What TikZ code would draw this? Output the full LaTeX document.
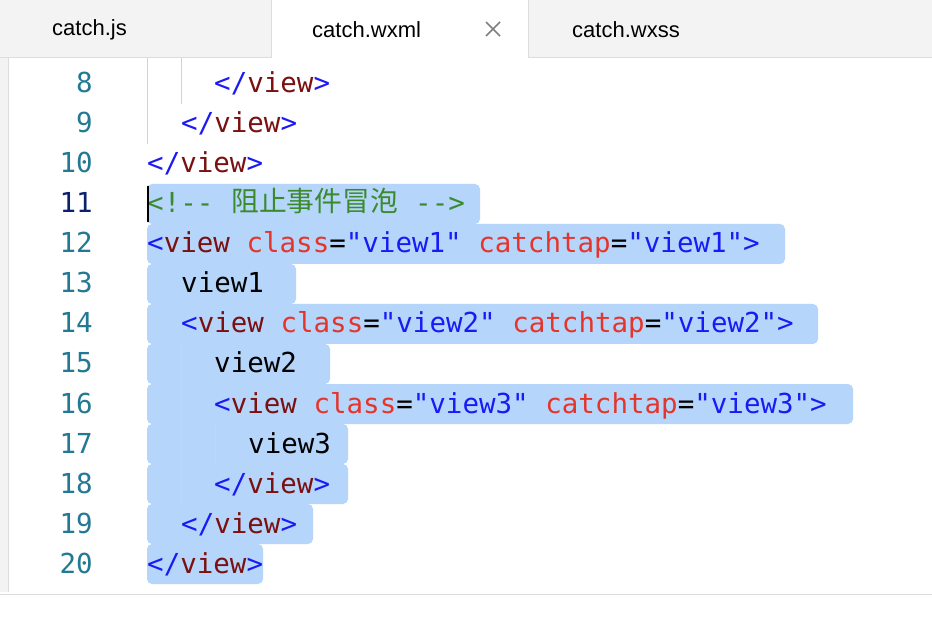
\documentclass[tikz,border=0pt]{standalone}
\usepackage{fontspec}
\setmainfont{Liberation Sans}
\setmonofont{DejaVu Sans Mono}
\newfontfamily\cjk{Noto Sans CJK SC}
\definecolor{tabbg}{HTML}{F3F3F3}
\definecolor{tabline}{HTML}{DDDDDD}
\definecolor{sel}{HTML}{B5D5FB}
\definecolor{lnum}{HTML}{237893}
\definecolor{lnact}{HTML}{0B216F}
\definecolor{cbr}{HTML}{1A1AF5}
\definecolor{cname}{HTML}{7A1010}
\definecolor{cattr}{HTML}{E5352B}
\definecolor{cval}{HTML}{1A1AF5}
\definecolor{ccom}{HTML}{3C8A2E}
\definecolor{guide}{HTML}{D3D3D3}
\newcommand{\Tg}[1]{\textcolor{cbr}{#1}}
\newcommand{\Nm}[1]{\textcolor{cname}{#1}}
\newcommand{\At}[1]{\textcolor{cattr}{#1}}
\newcommand{\Vl}[1]{\textcolor{cval}{#1}}
\begin{document}
\begin{tikzpicture}[x=1pt,y=-1pt,
  code/.style={anchor=base west,inner sep=0,font=\ttfamily\fontsize{27.5}{30}\selectfont},
  num/.style={anchor=base east,inner sep=0,font=\ttfamily\fontsize{27.5}{30}\selectfont,text=lnum},
  tab/.style={anchor=west,inner sep=0,font=\fontsize{22}{26}\selectfont}]
\useasboundingbox (0,0) rectangle (932,620);
\fill[white] (0,0) rectangle (932,620);
% tab bar
\fill[tabbg] (0,0) rectangle (932,57);
\fill[white] (272,0) rectangle (528,58);
\draw[tabline] (0,57.5) -- (272,57.5) (528,57.5) -- (932,57.5);
\draw[tabline] (271.5,0) -- (271.5,57.5) (528.5,0) -- (528.5,57.5);
\node[tab] (t1) at (52,30) {catch.js};
\node[tab] (t2) at (312,30) {catch.wxml};
\node[tab] (t3) at (572,30) {catch.wxss};
\draw[gray,line width=1.6] (486,22) -- (500,36) (500,22) -- (486,36);
% left bar and bottom
\fill[tabbg] (0,58) rectangle (8,592);
\draw[tabline] (8.5,58) -- (8.5,592);
\draw[tabline] (0,594.5) -- (932,594.5);
% selections
\foreach \ln/\ex in {11/480,12/785,13/296,14/818,15/330,16/853,17/348,18/348,19/313,20/263}{
  \fill[sel,rounded corners=5] (147,{84+(\ln-8)*40-20}) rectangle (\ex,{84+(\ln-8)*40+20});
}
% guides
\draw[guide] (181,58) -- (181,104);
\draw[guide] (147,58) -- (147,144);
\draw[guide] (181,344) -- (181,504);
\draw[guide] (215,424) -- (215,464);
% line numbers
\foreach \ln in {8,9,10,12,13,14,15,16,17,18,19,20}{
  \node[num] (n\ln) at (93,{84+(\ln-8)*40+9}) {\ln};
}
\node[num,text=lnact] (n11) at (93,213) {11};
% code
\node[code] (c8) at (214,93) {\Tg{</}\Nm{view}\Tg{>}};
\node[code] (c9) at (181,133) {\Tg{</}\Nm{view}\Tg{>}};
\node[code] (c10) at (147,173) {\Tg{</}\Nm{view}\Tg{>}};
\node[code,text=ccom] (c11a) at (147,213) {<!--};
\node[anchor=base west,inner sep=0,text=ccom,font=\cjk\fontsize{27.8}{30}\selectfont] (k) at (231,212) {阻止事件冒泡};
\node[code,text=ccom] (c11b) at (415,213) {-->};
\node[code] (c12) at (147,253) {\Tg{<}\Nm{view} \At{class}=\Vl{"view1"} \At{catchtap}=\Vl{"view1"}\Tg{>}};
\node[code] (c13) at (181,293) {view1};
\node[code] (c14) at (181,333) {\Tg{<}\Nm{view} \At{class}=\Vl{"view2"} \At{catchtap}=\Vl{"view2"}\Tg{>}};
\node[code] (c15) at (214,373) {view2};
\node[code] (c16) at (214,413) {\Tg{<}\Nm{view} \At{class}=\Vl{"view3"} \At{catchtap}=\Vl{"view3"}\Tg{>}};
\node[code] (c17) at (248,453) {view3};
\node[code] (c18) at (214,493) {\Tg{</}\Nm{view}\Tg{>}};
\node[code] (c19) at (181,533) {\Tg{</}\Nm{view}\Tg{>}};
\node[code] (c20) at (147,573) {\Tg{</}\Nm{view}\Tg{>}};
% cursor
\draw[black,line width=1.8] (148,186) -- (148,222);
\end{tikzpicture}
\end{document}
